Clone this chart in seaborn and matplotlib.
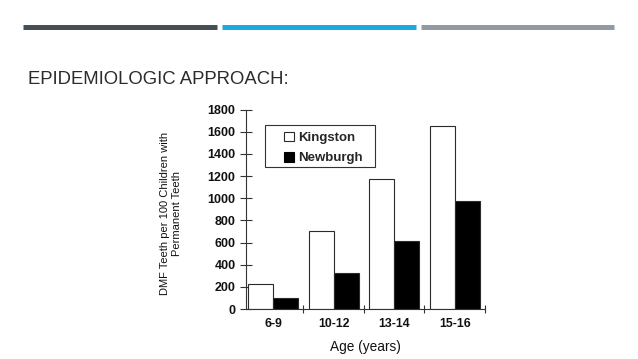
import matplotlib
matplotlib.use("Agg")
import matplotlib.pyplot as plt
import seaborn as sns
import pandas as pd
from matplotlib.patches import Patch, Rectangle
from matplotlib.lines import Line2D

# ---- data ----
age_groups = ["6-9", "10-12", "13-14", "15-16"]
kingston = [230, 700, 1170, 1650]
newburgh = [95, 325, 610, 975]
series_names = ["Kingston", "Newburgh"]
y_ticks = [0, 200, 400, 600, 800, 1000, 1200, 1400, 1600, 1800]

df = pd.DataFrame({
    "Age": age_groups * 2,
    "DMF": kingston + newburgh,
    "City": [series_names[0]] * 4 + [series_names[1]] * 4,
})

sns.set_theme(style="white")
plt.rcParams["font.family"] = ["Liberation Sans", "DejaVu Sans"]

W, H = 638, 359
fig = plt.figure(figsize=(W / 100, H / 100), dpi=100)
fig.patch.set_facecolor("white")

# decorative top bars
bar_specs = [(23, 217, "#474f56"), (222, 416, "#1ba9e1"), (421, 614, "#929aa3")]
for x0, x1, c in bar_specs:
    fig.add_artist(Line2D([x0 / W, x1 / W], [1 - 26.5 / H, 1 - 26.5 / H],
                          color=c, linewidth=5 * 0.72, solid_capstyle="butt"))

fig.text(28 / W, 1 - 84 / H, "EPIDEMIOLOGIC APPROACH:", fontsize=13.3,
         color="#2b2b2b", ha="left", va="baseline")

left, right = 246 / W, 485 / W
bottom, top = 1 - 309 / H, 1 - 109.5 / H
ax = fig.add_axes([left, bottom, right - left, top - bottom])

sns.barplot(data=df, x="Age", y="DMF", hue="City", palette=["white", "black"],
            edgecolor="#2a2a2a", linewidth=0.8, width=0.83, gap=0,
            ax=ax, legend=False)

ax.set_xlim(-0.45, 3.5)
ax.set_ylim(0, 1800)
ax.set_yticks(y_ticks)
ax.set_yticklabels([str(v) for v in y_ticks], fontsize=9, fontweight="bold",
                   color="#111111")
ax.tick_params(axis="y", direction="inout", length=9, width=0.8, color="#333333",
               pad=3, left=True)
ax.set_xticks(range(len(age_groups)))
ax.set_xticklabels(age_groups, fontsize=8.8, fontweight="bold", color="#111111")
ax.tick_params(axis="x", length=0, pad=6.5)
ax.set_xticks([0.5, 1.5, 2.5, 3.5], minor=True)
ax.tick_params(axis="x", which="minor", direction="inout", length=6, width=0.8,
               color="#333333", bottom=True)

for s in ["top", "right"]:
    ax.spines[s].set_visible(False)
for s in ["left", "bottom"]:
    ax.spines[s].set_color("#333333")
    ax.spines[s].set_linewidth(0.8)
ax.set_facecolor("white")

ax.set_xlabel("Age (years)", fontsize=9.8, labelpad=7, color="#111111")
ax.set_ylabel("DMF Teeth per 100 Children with\nPermanent Teeth", fontsize=8,
              linespacing=1.25, color="#111111")
ax.yaxis.label.set_va("center")
ax.yaxis.set_label_coords(-0.314, 0.48)

# legend frame (drawn separately to match the wide horizontal padding)
fx0, fx1 = (265 - 246) / 239, (375.3 - 246) / 239
fy0, fy1 = (309 - 167.3) / 199.5, (309 - 125) / 199.5
ax.add_patch(Rectangle((fx0, fy0), fx1 - fx0, fy1 - fy0, transform=ax.transAxes,
                       facecolor="white", edgecolor="#333333", linewidth=0.8,
                       zorder=5, clip_on=False))

handles = [Patch(facecolor="white", edgecolor="#2a2a2a", linewidth=0.8),
           Patch(facecolor="black", edgecolor="black", linewidth=0.8)]
leg = ax.legend(handles, series_names, loc="upper left",
                bbox_to_anchor=((284 - 246) / 239, (309 - 131.5) / 199.5),
                borderaxespad=0, borderpad=0, frameon=False,
                prop={"weight": "bold", "size": 9.5},
                handlelength=0.75, handleheight=0.75, handletextpad=0.3,
                labelspacing=0.6)
leg.set_zorder(6)

fig.savefig("out.png", dpi=100, facecolor="white")
